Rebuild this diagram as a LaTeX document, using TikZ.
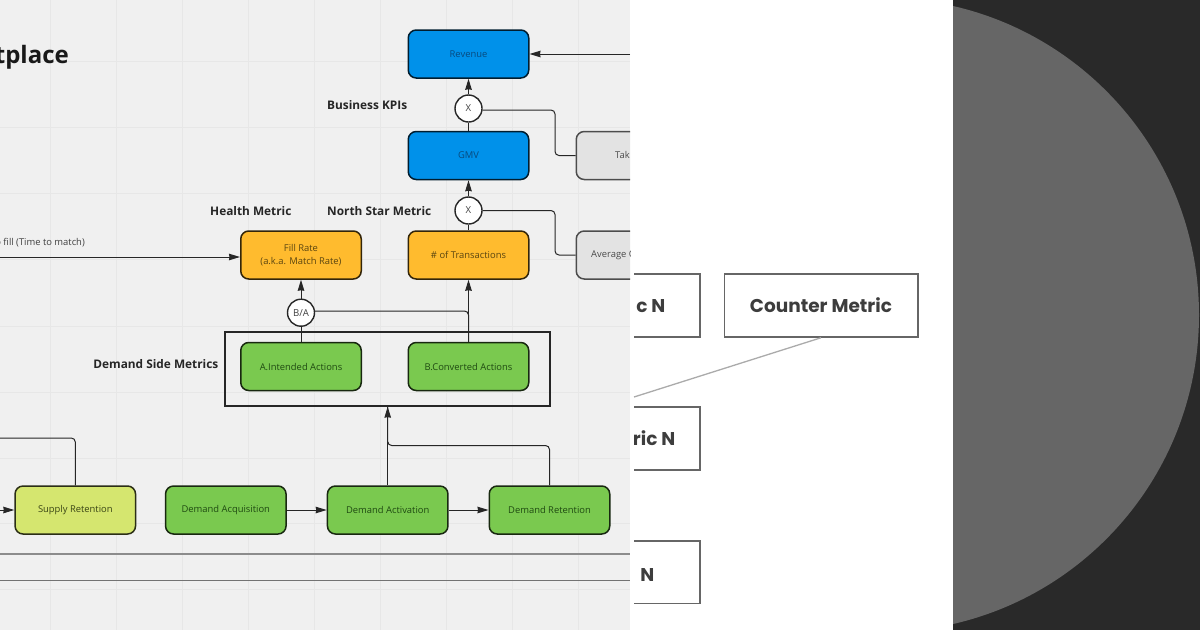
\documentclass[tikz,border=0pt]{standalone}
\usepackage{fontspec}
\setmainfont{Open Sans}
\newfontfamily\montfont{Poppins}
\usetikzlibrary{arrows.meta}
\definecolor{panelbg}{HTML}{F0F0F0}
\definecolor{gridln}{HTML}{E7E7E7}
\definecolor{darkbg}{HTML}{292929}
\definecolor{discbg}{HTML}{666666}
\definecolor{kpiblue}{HTML}{0091EA}
\definecolor{kpitxt}{HTML}{084A7E}
\definecolor{starorange}{HTML}{FFBB2E}
\definecolor{startxt}{HTML}{5A4510}
\definecolor{demgreen}{HTML}{7AC94F}
\definecolor{demtxt}{HTML}{1F4A12}
\definecolor{suplime}{HTML}{D5E66F}
\definecolor{suptxt}{HTML}{3A4515}
\definecolor{inputgrey}{HTML}{E3E3E3}
\definecolor{inputtxt}{HTML}{4A4A4A}
\tikzset{
  box/.style={rectangle,rounded corners=8pt,draw=#1,line width=1.5pt,minimum width=120.5pt,
    minimum height=48pt,inner sep=0pt,align=center,font=\fontsize{9.4}{13.5}\selectfont},
  kpi/.style={box=black!80!kpiblue,fill=kpiblue,text=kpitxt},
  star/.style={box=black!80!starorange,fill=starorange,text=startxt},
  dem/.style={box=black!80!demgreen,fill=demgreen,text=demtxt},
  sup/.style={box=black!80!suplime,fill=suplime,text=suptxt},
  inp/.style={box=black!70,fill=inputgrey},
  op/.style={circle,draw=black!85,line width=1.4pt,fill=white,minimum size=27pt,inner sep=0pt,
    text=black!75,font=\fontsize{9.6}{12}\selectfont},
  head/.style={inner sep=0pt,font=\fontsize{11.85}{15}\selectfont\bfseries,text=black!85},
  note/.style={inner sep=0pt,font=\fontsize{9.4}{12}\selectfont,text=black!75},
  conn/.style={draw=black!85,line width=1pt,rounded corners=4pt},
  metric/.style={inner sep=0pt,font=\montfont\fontsize{18.5}{22}\selectfont\bfseries,text=black!76},
  cutbox/.style={draw=black!60,line width=1.5pt}
}
\begin{document}
\begin{tikzpicture}[>={Stealth[length=11pt,width=6.5pt,inset=0.5pt]},x=1pt,y=-1pt]
	\useasboundingbox (0,0) rectangle (1200,630);
	%the three panels
	\fill[white] (630,0) rectangle (953,630);
	\fill[darkbg] (953,0) rectangle (1200,630);
	\begin{scope}
		\clip (953,0) rectangle (1200,630);
		\fill[discbg] (882,315) circle (317);
	\end{scope}
	%board on the left
	\begin{scope}
	\clip (0,0) rectangle (630,630);
	\fill[panelbg] (0,0) rectangle (630,630);
	\foreach \x in {50,116,182,248,314,380,446,512,578}
		\draw[gridln] (\x,0)--(\x,630);
	\foreach \y in {61,127,193,259,326,392,458,523,589}
		\draw[gridln] (0,\y)--(630,\y);

	\node[inner sep=0pt,font=\fontsize{24}{28}\selectfont\bfseries,text=black!90,anchor=east] (title) at (69,57) {tplace};
	\node[head,anchor=west] (kpilbl) at (327,105.5) {Business KPIs};
	\node[head,anchor=west] (healthlbl) at (210,211.5) {Health Metric};
	\node[head,anchor=west] (starlbl) at (327,211.5) {North Star Metric};
	\node[head,anchor=east] (demlbl) at (218.5,364.2) {Demand Side Metrics};
	\node[note,anchor=east] (filllbl) at (85,242.5) {o fill (Time to match)};

	%the frame round the demand side
	\node[draw=black!85,line width=1.3pt,minimum width=325pt,minimum height=74pt] (frame) at (387.5,369) {};

	\node[kpi] (rev) at (468.5,54) {Revenue};
	\node[kpi] (gmv) at (468.5,155.5) {GMV};
	\node[star] (trans) at (468.5,255) {\# of Transactions};
	\node[star] (fill) at (301,255) {Fill Rate\\(a.k.a. Match Rate)};
	\node[dem] (intended) at (301,366.5) {A.Intended Actions};
	\node[dem] (converted) at (468.5,366.5) {B.Converted Actions};
	\node[sup] (supret) at (75.3,510) {Supply Retention};
	\node[dem] (demacq) at (225.8,510) {Demand Acquisition};
	\node[dem] (demact) at (387.7,510) {Demand Activation};
	\node[dem] (demret) at (549.5,510) {Demand Retention};
	\node[inp] (take) at (636.5,155.5) {};
	\node[inp] (avg) at (636.5,255) {};
	\node[note,anchor=west,text=inputtxt] (taketxt) at (615,155) {Tak};
	\node[note,anchor=west,text=inputtxt] (avgtxt) at (591,255.5) {Average O};

	\node[op] (timesa) at (468.5,108.5) {X};
	\node[op] (timesb) at (468.5,210.5) {X};
	\node[op] (ratio) at (301,312.7) {B/A};

	%free ends at the cut of the board
	\coordinate (revin) at (630,54);
	\coordinate (fillin) at (0,257);
	\coordinate (supin) at (0,510);
	\coordinate (supout) at (0,438);
	\coordinate (lineaw) at (0,554);
	\coordinate (lineae) at (630,554);
	\coordinate (linebw) at (0,580);
	\coordinate (linebe) at (630,580);
	\coordinate (retturn) at (549.5,445.5);

	\draw[conn,->] (revin)--(rev.east);
	\draw[conn,->] (timesa)--(rev);
	\draw[conn] (gmv)--(timesa);
	\draw[conn,->] (timesb)--(gmv);
	\draw[conn] (trans)--(timesb);
	\draw[conn] (take.west)-|(555,110)--(timesa.east |- 0,110);
	\draw[conn] (avg.west)-|(555,210.5)--(timesb.east);
	\draw[conn,->] (fillin)--(fill.west |- fillin);
	\draw[conn,->] (ratio)--(fill);
	\draw[conn] (intended)--(ratio);
	\draw[conn,->] (converted)--(trans);
	\draw[conn] (ratio.east |- 0,311)--(468.5,311)--(converted.north);
	\draw[conn,->] (supin)--(supret.west);
	\draw[conn] (supret.north)|-(supout);
	\draw[conn,->] (demacq)--(demact);
	\draw[conn,->] (demact)--(demret);
	\draw[conn,->] (demact.north)--(demact.north |- frame.south);
	\draw[conn] (demret.north)--(retturn)--(demact.north |- retturn)--(demact.north |- frame.south);
	\draw[draw=black!45,line width=1.3pt] (lineaw)--(lineae);
	\draw[draw=black!55,line width=1pt] (linebw)--(linebe);
	\end{scope}

	%boxes on the white panel
	\node[metric,rectangle,draw=black!60,line width=1.5pt,minimum width=193.5pt,minimum height=63pt] (counter) at (821,305.5) {Counter Metric};
	\coordinate (cuta) at (634,397);
	\draw[draw=black!33,line width=1.3pt] (counter.south)--(cuta);
	\begin{scope}
		\clip (634,250) rectangle (720,630);
		\draw[cutbox] (630,274)--(700,274)--(700,337)--(630,337);
		\draw[cutbox] (630,407)--(700,407)--(700,470)--(630,470);
		\draw[cutbox] (630,541)--(700,541)--(700,603.5)--(630,603.5);
		\node[metric,anchor=east] (ma) at (665.5,306.5) {c N};
		\node[metric,anchor=east] (mb) at (675.5,438.5) {ric N};
		\node[metric,anchor=east] (mc) at (654.5,574.5) {N};
	\end{scope}
\end{tikzpicture}
\end{document}
